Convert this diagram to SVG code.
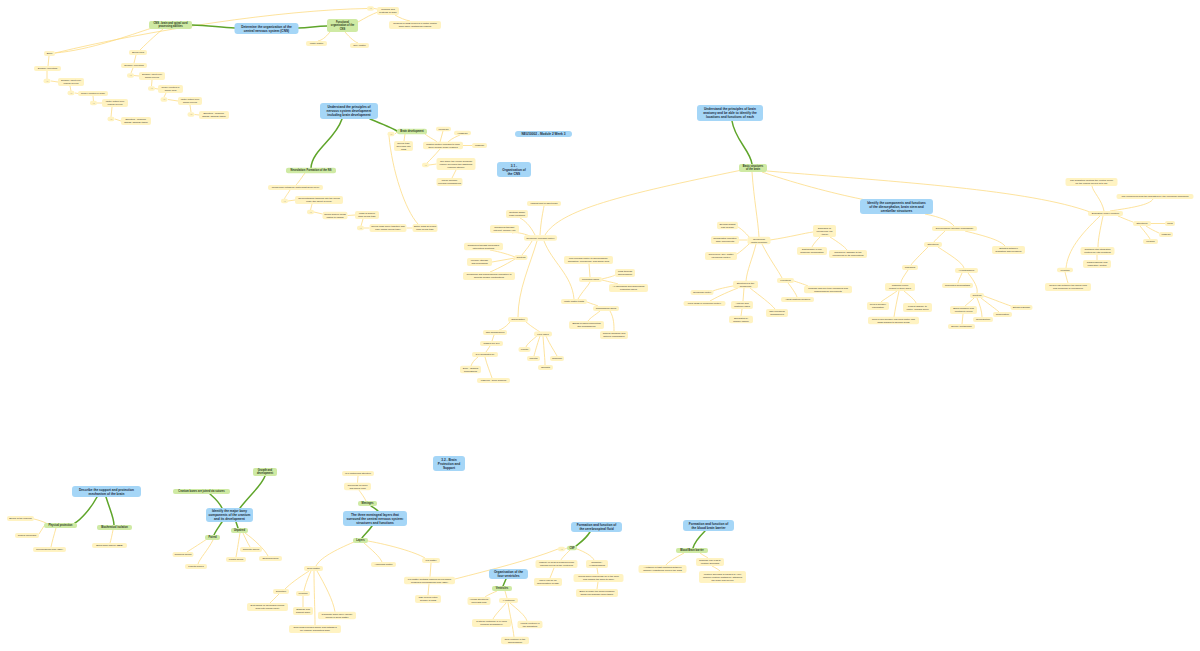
<svg xmlns="http://www.w3.org/2000/svg" width="1200" height="651" viewBox="0 0 1200 651">
<style>
.b{fill:#a5d6f7}.g{fill:#cfeaa4}.y{fill:#fff3c2}
text{font-family:"Liberation Sans",Arial,sans-serif;text-anchor:middle}
.tb{font-size:3.2px;font-weight:bold;fill:#1b2b3a}
.tg{font-size:2.6px;font-weight:bold;fill:#2a3a1a}
.ty{font-size:2.4px;fill:#333}
.cy{fill:none;stroke:#fcd97e;stroke-width:0.75}
.cg{fill:none;stroke:#5fa52a;stroke-width:1.5;stroke-linecap:round}
</style>
<rect width="1200" height="651" fill="#ffffff"/>
<g id="connectors">
<path class="cy" d="M55,53 C90,50 130,35 152,28"/>
<path class="cy" d="M55,53 C150,30 280,10 367,8.5"/>
<path class="cy" d="M140,50 C150,40 158,33 163,29"/>
<path class="cg" d="M192,25 C210,25 220,28 235,28"/>
<path class="cg" d="M298,28 C310,28 315,26 327,26"/>
<path class="cy" d="M330,32 C325,38 322,40 318,41"/>
<path class="cy" d="M345,32 C350,38 355,42 358,43"/>
<path class="cy" d="M358,22 C365,18 372,14 378,12"/>
<path class="cy" d="M374,8.5 L377,9"/>
<path class="cy" d="M395,15 C400,18 405,20 410,21"/>
<path class="cy" d="M49,56 L48,66 M47,71 L47,79 M51,81 L58,82 M70,86 L71,91 M75,93 L78,93.5 M93,96 L93.5,101 M97,103 L102,103 M112,107 L111,117 M115,119 L121,121"/>
<path class="cy" d="M136,55 L134,63 M133,68 L131,73 M134,75.5 L139,76 M152,80 L151.5,86 M155,88.5 L158,89 M166,93 L164,97 M168,99.5 L178,101 M190,105 L191,112 M194.5,114.5 L199,115"/>
<path class="cg" d="M370,119 C385,125 392,128 397,131"/>
<path class="cg" d="M342,119 C335,140 312,150 311,168"/>
<path class="cy" d="M397,132 L395,134 M405,134 L404,141"/>
<path class="cy" d="M425,134 C430,138 435,140 437,142"/>
<path class="cy" d="M440,142 L443,131"/>
<path class="cy" d="M448,142 C452,138 458,136 460,135"/>
<path class="cy" d="M463,145.5 L472,145.5"/>
<path class="cy" d="M440,149 C435,155 430,160 427,163"/>
<path class="cy" d="M429,165 L436.5,164 M456,170 L452,178"/>
<path class="cy" d="M389,136 C392,170 405,210 418,224"/>
<path class="cy" d="M305,173 C300,180 298,183 296,185"/>
<path class="cy" d="M290,190 C287,195 285,197 284.5,199 M288,201 L295,200 M312,204 L310.5,210 M314,212 L322.5,214 M347.5,215.5 L355,215 M363,219 L361,226 M364,228 L369.5,228 M406.5,228 L412.5,228"/>
<path class="cy" d="M545,235 C560,210 620,195 742,170"/>
<path class="cy" d="M540,235 C541,220 543,212 544,206"/>
<path class="cy" d="M535,235 C530,225 524,220 520,218"/>
<path class="cy" d="M530,236 C522,233 516,232 512,233"/>
<path class="cy" d="M532,241 C528,248 524,252 522,255"/>
<path class="cy" d="M515,257 C505,253 495,251 490,250"/>
<path class="cy" d="M515,258 L492,262"/>
<path class="cy" d="M515,259 C505,265 495,270 490,272"/>
<path class="cy" d="M537,241 C530,265 518,290 518,317"/>
<path class="cy" d="M544,241 C552,262 572,275 574,299"/>
<path class="cy" d="M578,299 C582,292 588,286 590,282"/>
<path class="cy" d="M590,277 L589,264"/>
<path class="cy" d="M602,279 C610,277 614,276 615,275"/>
<path class="cy" d="M602,280 C610,282 615,283 618,284"/>
<path class="cy" d="M587,302 C592,304 596,305 598,306"/>
<path class="cy" d="M600,311 C595,315 590,318 588,321"/>
<path class="cy" d="M610,311 C614,318 614,325 614,331"/>
<path class="cy" d="M510,322 C505,328 500,330 499,330"/>
<path class="cy" d="M526,322 C532,327 537,330 540,332"/>
<path class="cy" d="M494,335 L492,341 M490,346 L486,352"/>
<path class="cy" d="M478,357 C474,360 472,363 471,366"/>
<path class="cy" d="M485,357 C487,365 490,372 492,378"/>
<path class="cy" d="M537,336 C532,340 527,344 526,347"/>
<path class="cy" d="M540,336 C537,345 535,352 534,356"/>
<path class="cy" d="M546,336 C550,345 555,352 557,356"/>
<path class="cy" d="M543,336 C544,350 545,360 545,365"/>
<path class="cg" d="M732,121 C735,140 750,150 752,164"/>
<path class="cy" d="M752,172 C754,200 758,220 759,237"/>
<path class="cy" d="M762,172 C800,185 840,195 866,200"/>
<path class="cy" d="M767,171 C900,182 1030,190 1090,212"/>
<path class="cy" d="M750,238 C745,232 740,228 738,227"/>
<path class="cy" d="M747.5,240 L739,240"/>
<path class="cy" d="M750,243 C745,248 740,252 737,254"/>
<path class="cy" d="M770,240 C790,237 805,233 813,232"/>
<path class="cy" d="M820,237 C815,242 813,245 812,247"/>
<path class="cy" d="M830,237 C838,242 845,247 847,250"/>
<path class="cy" d="M756,244 C752,260 747,270 746,281"/>
<path class="cy" d="M762,244 C770,260 778,270 782,278"/>
<path class="cy" d="M794,281 C800,283 806,285 808,286"/>
<path class="cy" d="M788,283 C792,288 796,294 797,297"/>
<path class="cy" d="M733,286 C722,288 715,290 713,291"/>
<path class="cy" d="M738,288 C725,293 715,298 710,301"/>
<path class="cy" d="M744,288 L743,301 M742,309 L741,316"/>
<path class="cy" d="M750,288 C760,296 770,303 775,309"/>
<path class="cy" d="M925,214 C940,217 950,221 954,226"/>
<path class="cy" d="M945,231 C940,236 935,240 934,242"/>
<path class="cy" d="M965,231 C985,236 1000,240 1005,246"/>
<path class="cy" d="M928,247 C920,255 913,262 911,265"/>
<path class="cy" d="M938,247 C950,255 962,262 964,268"/>
<path class="cy" d="M908,270 C904,276 901,280 901,283"/>
<path class="cy" d="M962,273 C960,278 958,281 958,283"/>
<path class="cy" d="M968,273 C975,282 978,288 977,293"/>
<path class="cy" d="M897,291 C890,296 883,300 881,302"/>
<path class="cy" d="M904,291 C910,296 915,300 916,303"/>
<path class="cy" d="M899,291 C897,300 895,310 894,317"/>
<path class="cy" d="M974,298 C970,302 966,305 965,306"/>
<path class="cy" d="M977,298 C980,305 982,312 982,317"/>
<path class="cy" d="M981,298 C990,305 997,310 999,312"/>
<path class="cy" d="M984,296 C995,300 1005,304 1011,306"/>
<path class="cy" d="M963,314 L962,324"/>
<path class="cy" d="M1104,211 C1102,200 1093,192 1092,186"/>
<path class="cy" d="M1110,211 C1130,208 1150,205 1153,199"/>
<path class="cy" d="M1118,216 C1125,219 1130,221 1133,222"/>
<path class="cy" d="M1151,223.5 L1165,223.5"/>
<path class="cy" d="M1146,226 C1152,230 1157,232 1159,233"/>
<path class="cy" d="M1140,226 C1145,232 1149,237 1150,239"/>
<path class="cy" d="M1103,216 C1100,230 1098,240 1098,247 M1097,255 L1097,260"/>
<path class="cy" d="M1100,216 C1080,235 1068,250 1066,268"/>
<path class="cy" d="M1065,272 C1066,276 1067,280 1068,283"/>
<path class="cg" d="M97,497 C90,510 80,520 75,523"/>
<path class="cg" d="M106,497 C110,510 114,518 114,525"/>
<path class="cy" d="M48,524 C42,521 38,520 34,519"/>
<path class="cy" d="M44,526 L39,534"/>
<path class="cy" d="M56,528 C54,535 52,542 51,547"/>
<path class="cy" d="M113,530 C112,535 111,540 110,543"/>
<path class="cg" d="M222,508 C218,500 212,496 210,494"/>
<path class="cg" d="M240,508 C250,495 262,485 265,476"/>
<path class="cg" d="M222,522 C218,528 215,532 214,535"/>
<path class="cg" d="M236,522 L238,528"/>
<path class="cy" d="M207,539 C198,545 190,550 187,552"/>
<path class="cy" d="M213,540 C208,550 200,558 198,564"/>
<path class="cy" d="M240,533 C238,545 237,552 236,557"/>
<path class="cy" d="M243,533 C246,540 249,545 250,547"/>
<path class="cy" d="M245,533 C255,540 265,550 268,556"/>
<path class="cy" d="M366,501 C363,495 360,492 359,490 M357.5,482.75 L358,476"/>
<path class="cg" d="M371,506 C374,508 376,509 378,511"/>
<path class="cg" d="M372,526 C368,532 364,535 362,538"/>
<path class="cy" d="M354,542 C335,550 320,558 316,566"/>
<path class="cy" d="M364,543 C372,550 380,557 382,562"/>
<path class="cy" d="M368,541 C390,545 415,552 425,558"/>
<path class="cy" d="M431,563 L430,576.75 M429,584 L428,595"/>
<path class="cy" d="M309,571 C298,578 290,584 285,589"/>
<path class="cy" d="M311,571 C307,580 305,586 304,591"/>
<path class="cy" d="M317,571 C325,585 333,600 335,611.75"/>
<path class="cy" d="M314,571 C314,590 315,610 315,625"/>
<path class="cy" d="M279,594 C275,598 272,601 270,603 M303,596 L303,607"/>
<path class="cy" d="M455,579 C490,570 530,560 558,549"/>
<path class="cg" d="M506,579 L503,586"/>
<path class="cy" d="M497,591 C490,594 486,596 485,597"/>
<path class="cy" d="M505,591 L507,598"/>
<path class="cy" d="M506,603 C500,610 495,615 493,619"/>
<path class="cy" d="M510,603 C518,610 525,615 527,621"/>
<path class="cy" d="M508,603 C510,615 513,628 514,637"/>
<path class="cg" d="M590,532 C585,540 578,544 576,546"/>
<path class="cy" d="M565,549 L567,548"/>
<path class="cy" d="M570,550 C565,555 562,558 561,560"/>
<path class="cy" d="M577,549 C585,552 592,556 594,560"/>
<path class="cy" d="M554,568 L550,578 M597,568 L598,574 M598,582 L597,589"/>
<path class="cg" d="M705,531 C698,538 694,544 693,548"/>
<path class="cy" d="M684,553 C675,558 668,562 666,565"/>
<path class="cy" d="M700,553 C704,556 707,557 708,558"/>
<path class="cy" d="M712,566 C716,568 719,570 720,571"/>
</g>
<g id="N1"><rect class="g" x="149" y="21" width="43" height="8" rx="2"/><text class="tg"><tspan x="170.5" y="24.35">CNS - brain and spinal cord</tspan><tspan x="170.5" y="27.45">processing abilities</tspan></text></g>
<g id="N2"><rect class="b" x="234.5" y="23" width="64" height="11" rx="3"/><text class="tb"><tspan x="266.5" y="27.65">Determine the organization of the</tspan><tspan x="266.5" y="31.55">central nervous system (CNS)</tspan></text></g>
<g id="N3"><rect class="g" x="327" y="19" width="31" height="13" rx="2.5"/><text class="tg"><tspan x="342.5" y="23.3">Functional</tspan><tspan x="342.5" y="26.4">organisation of the</tspan><tspan x="342.5" y="29.5">CNS</tspan></text></g>
<g id="N4"><rect class="y" x="367" y="6.25" width="7" height="4.5" rx="2"/><text class="ty" x="370.5" y="9.35">-&gt;</text></g>
<g id="N5"><rect class="y" x="377" y="7" width="22" height="8" rx="2"/><text class="ty"><tspan x="388" y="10.4">Regions and</tspan><tspan x="388" y="13.3">systems of brain</tspan></text></g>
<g id="N6"><rect class="y" x="389" y="21" width="52" height="8" rx="2"/><text class="ty"><tspan x="415" y="24.4">Regions of CNS involved in motor control</tspan><tspan x="415" y="27.3">span many anatomical regions</tspan></text></g>
<g id="N7"><rect class="y" x="306" y="41" width="21" height="5" rx="2"/><text class="ty" x="316.5" y="44.35">White matter</text></g>
<g id="N8"><rect class="y" x="350" y="43" width="19" height="5" rx="2"/><text class="ty" x="359.5" y="46.35">Grey matter</text></g>
<g id="N9"><rect class="y" x="44" y="51" width="11" height="5" rx="2"/><text class="ty" x="49.5" y="54.35">Brain</text></g>
<g id="N10"><rect class="y" x="129" y="50" width="18" height="5" rx="2"/><text class="ty" x="138" y="53.35">Spinal cord</text></g>
<g id="N11"><rect class="y" x="34" y="66" width="27" height="5" rx="2"/><text class="ty" x="47.5" y="69.35">Sensory receptors</text></g>
<g id="N12"><rect class="y" x="43.5" y="78.75" width="7" height="4.5" rx="2"/><text class="ty" x="47" y="81.85">-&gt;</text></g>
<g id="N13"><rect class="y" x="58" y="78" width="26" height="8" rx="2"/><text class="ty"><tspan x="71" y="81.4">Sensory input over</tspan><tspan x="71" y="84.3">cranial nerves</tspan></text></g>
<g id="N14"><rect class="y" x="67.5" y="90.75" width="7" height="4.5" rx="2"/><text class="ty" x="71" y="93.85">-&gt;</text></g>
<g id="N15"><rect class="y" x="78" y="91" width="30" height="5" rx="2"/><text class="ty" x="93" y="94.35">Reflex centres in brain</text></g>
<g id="N16"><rect class="y" x="90" y="100.75" width="7" height="4.5" rx="2"/><text class="ty" x="93.5" y="103.85">-&gt;</text></g>
<g id="N17"><rect class="y" x="102" y="99" width="26" height="8" rx="2"/><text class="ty"><tspan x="115" y="102.4">Motor output over</tspan><tspan x="115" y="105.3">cranial nerves</tspan></text></g>
<g id="N18"><rect class="y" x="107.5" y="116.75" width="7" height="4.5" rx="2"/><text class="ty" x="111" y="119.85">-&gt;</text></g>
<g id="N19"><rect class="y" x="121" y="117" width="30" height="8" rx="2"/><text class="ty"><tspan x="136" y="120.4">Effectors - muscles,</tspan><tspan x="136" y="123.3">glands, adipose tissue</tspan></text></g>
<g id="N20"><rect class="y" x="121" y="63" width="26" height="5" rx="2"/><text class="ty" x="134" y="66.35">Sensory receptors</text></g>
<g id="N21"><rect class="y" x="127" y="73.25" width="7" height="4.5" rx="2"/><text class="ty" x="130.5" y="76.35">-&gt;</text></g>
<g id="N22"><rect class="y" x="139" y="72" width="26" height="8" rx="2"/><text class="ty"><tspan x="152" y="75.4">Sensory input over</tspan><tspan x="152" y="78.3">spinal nerves</tspan></text></g>
<g id="N23"><rect class="y" x="148" y="86.25" width="7" height="4.5" rx="2"/><text class="ty" x="151.5" y="89.35">-&gt;</text></g>
<g id="N24"><rect class="y" x="158" y="85" width="25" height="8" rx="2"/><text class="ty"><tspan x="170.5" y="88.4">Reflex centres in</tspan><tspan x="170.5" y="91.3">spinal cord</tspan></text></g>
<g id="N25"><rect class="y" x="160.5" y="97.25" width="7" height="4.5" rx="2"/><text class="ty" x="164" y="100.35">-&gt;</text></g>
<g id="N26"><rect class="y" x="178" y="97" width="24" height="8" rx="2"/><text class="ty"><tspan x="190" y="100.4">Motor output over</tspan><tspan x="190" y="103.3">spinal nerves</tspan></text></g>
<g id="N27"><rect class="y" x="187.5" y="112.25" width="7" height="4.5" rx="2"/><text class="ty" x="191" y="115.35">-&gt;</text></g>
<g id="N28"><rect class="y" x="199" y="111" width="30" height="8" rx="2"/><text class="ty"><tspan x="214" y="114.4">Effectors - muscles,</tspan><tspan x="214" y="117.3">glands, adipose tissue</tspan></text></g>
<g id="D1"><rect class="b" x="320" y="103" width="58" height="16" rx="3"/><text class="tb"><tspan x="349" y="108.2">Understand the principles of</tspan><tspan x="349" y="112.1">nervous system development</tspan><tspan x="349" y="116">including brain development</tspan></text></g>
<g id="D2"><rect class="g" x="397" y="128.75" width="30" height="5.5" rx="2"/><text class="tg" x="412" y="132.4">Brain development</text></g>
<g id="D3"><rect class="y" x="387.5" y="131.75" width="7" height="4.5" rx="2"/><text class="ty" x="391" y="134.85">-&gt;</text></g>
<g id="D4"><rect class="y" x="394" y="141" width="19" height="10" rx="2"/><text class="ty"><tspan x="403.5" y="143.95">Neural tube</tspan><tspan x="403.5" y="146.85">develops into</tspan><tspan x="403.5" y="149.75">CNS</tspan></text></g>
<g id="D5"><rect class="y" x="423" y="141.75" width="40" height="7.5" rx="2"/><text class="ty"><tspan x="443" y="144.9">Rostral portion enlarged to form</tspan><tspan x="443" y="147.8">three primary brain vesicles</tspan></text></g>
<g id="D6"><rect class="y" x="436" y="126.75" width="15" height="4.5" rx="2"/><text class="ty" x="443.5" y="129.85">Forebrain</text></g>
<g id="D7"><rect class="y" x="454" y="130.75" width="17" height="4.5" rx="2"/><text class="ty" x="462.5" y="133.85">Hindbrain</text></g>
<g id="D8"><rect class="y" x="472" y="143" width="15" height="5" rx="2"/><text class="ty" x="479.5" y="146.35">Midbrain</text></g>
<g id="D9"><rect class="y" x="422" y="162.75" width="7" height="4.5" rx="2"/><text class="ty" x="425.5" y="165.85">-&gt;</text></g>
<g id="D10"><rect class="y" x="436.5" y="158" width="39" height="12" rx="2"/><text class="ty"><tspan x="456" y="161.95">The brain: the neural forebrain</tspan><tspan x="456" y="164.85">vesicle develops two additional</tspan><tspan x="456" y="167.75">vesicles laterally</tspan></text></g>
<g id="D11"><rect class="y" x="436.5" y="178" width="26" height="8" rx="2"/><text class="ty"><tspan x="449.5" y="181.4">These become</tspan><tspan x="449.5" y="184.3">cerebral hemispheres</tspan></text></g>
<g id="D12"><rect class="g" x="286" y="167.75" width="50" height="5.5" rx="2"/><text class="tg" x="311" y="171.4">Neurulation: Formation of the NS</text></g>
<g id="D13"><rect class="y" x="268" y="185" width="55" height="5" rx="2"/><text class="ty" x="295.5" y="188.35">Forms from ectoderm (outermost germ layer)</text></g>
<g id="D14"><rect class="y" x="281" y="198.75" width="7" height="4.5" rx="2"/><text class="ty" x="284.5" y="201.85">-&gt;</text></g>
<g id="D15"><rect class="y" x="295" y="196" width="48" height="8" rx="2"/><text class="ty"><tspan x="319" y="199.4">Neuroectoderm thickens into the neural</tspan><tspan x="319" y="202.3">plate (the sheet of cells)</tspan></text></g>
<g id="D16"><rect class="y" x="307" y="209.75" width="7" height="4.5" rx="2"/><text class="ty" x="310.5" y="212.85">-&gt;</text></g>
<g id="D17"><rect class="y" x="322.5" y="211.75" width="25" height="7.5" rx="2"/><text class="ty"><tspan x="335" y="214.9">Neural groove forms</tspan><tspan x="335" y="217.8">rostral to caudal</tspan></text></g>
<g id="D18"><rect class="y" x="355" y="211" width="24" height="8" rx="2"/><text class="ty"><tspan x="367" y="214.4">Walls of groove</tspan><tspan x="367" y="217.3">form neural tube</tspan></text></g>
<g id="D19"><rect class="y" x="357" y="225.75" width="7" height="4.5" rx="2"/><text class="ty" x="360.5" y="228.85">-&gt;</text></g>
<g id="D20"><rect class="y" x="369.5" y="224" width="37" height="8" rx="2"/><text class="ty"><tspan x="388" y="227.4">Neural folds move together and</tspan><tspan x="388" y="230.3">fuse (forms neural tube)</tspan></text></g>
<g id="D21"><rect class="y" x="412.5" y="224" width="25" height="8" rx="2"/><text class="ty"><tspan x="425" y="227.4">Entire CNS develops</tspan><tspan x="425" y="230.3">from neural tube</tspan></text></g>
<g id="C1"><rect class="b" x="515" y="131" width="57" height="6" rx="3"/><text class="tb" x="543.5" y="135.1">NEU10002 - Module 2 Week 3</text></g>
<g id="C2"><rect class="b" x="497" y="162" width="34" height="15" rx="3"/><text class="tb"><tspan x="514" y="166.7">3.1 -</tspan><tspan x="514" y="170.6">Organisation of</tspan><tspan x="514" y="174.5">the CNS</tspan></text></g>
<g id="C3"><rect class="y" x="527" y="201" width="34" height="5" rx="2"/><text class="ty" x="544" y="204.35">Largest part of adult brain</text></g>
<g id="C4"><rect class="y" x="506" y="210" width="22" height="8" rx="2"/><text class="ty"><tspan x="517" y="213.4">Controls higher</tspan><tspan x="517" y="216.3">order functions</tspan></text></g>
<g id="C5"><rect class="y" x="490" y="225" width="29" height="8" rx="2"/><text class="ty"><tspan x="504.5" y="228.4">Conscious thought,</tspan><tspan x="504.5" y="231.3">intellect, memory etc</tspan></text></g>
<g id="C6"><rect class="y" x="524" y="235.25" width="33" height="5.5" rx="2"/><text class="ty" x="540.5" y="238.85">Cerebrum (cerebral cortex)</text></g>
<g id="C7"><rect class="y" x="464" y="242.75" width="39" height="7.5" rx="2"/><text class="ty"><tspan x="483.5" y="245.9">Conscious thought processes,</tspan><tspan x="483.5" y="248.8">intellectual functions</tspan></text></g>
<g id="C8"><rect class="y" x="514.5" y="255" width="13" height="5" rx="2"/><text class="ty" x="521" y="258.35">Controls</text></g>
<g id="C9"><rect class="y" x="467" y="258" width="25" height="8" rx="2"/><text class="ty"><tspan x="479.5" y="261.4">Memory storage</tspan><tspan x="479.5" y="264.3">and processing</tspan></text></g>
<g id="C10"><rect class="y" x="463" y="272" width="52" height="8" rx="2"/><text class="ty"><tspan x="489" y="275.4">Conscious and subconscious regulation of</tspan><tspan x="489" y="278.3">skeletal muscle contractions</tspan></text></g>
<g id="C11"><rect class="y" x="564" y="256" width="49" height="8" rx="2"/><text class="ty"><tspan x="588.5" y="259.4">Link cerebral cortex to diencephalon,</tspan><tspan x="588.5" y="262.3">brainstem, cerebellum, and spinal cord</tspan></text></g>
<g id="C12"><rect class="y" x="615" y="269" width="20" height="8" rx="2"/><text class="ty"><tspan x="625" y="272.4">Pass through</tspan><tspan x="625" y="275.3">diencephalon</tspan></text></g>
<g id="C13"><rect class="y" x="579" y="277" width="23" height="5" rx="2"/><text class="ty" x="590.5" y="280.35">Projection fibers</text></g>
<g id="C14"><rect class="y" x="609" y="284" width="39" height="8" rx="2"/><text class="ty"><tspan x="628.5" y="287.4">All ascending and descending</tspan><tspan x="628.5" y="290.3">projection fibers</tspan></text></g>
<g id="C15"><rect class="y" x="561" y="299" width="26" height="5" rx="2"/><text class="ty" x="574" y="302.35">White matter tracts</text></g>
<g id="C16"><rect class="y" x="593" y="306" width="26" height="5" rx="2"/><text class="ty" x="606" y="309.35">Commissural fibers</text></g>
<g id="C17"><rect class="y" x="569" y="321" width="35" height="8" rx="2"/><text class="ty"><tspan x="586.5" y="324.4">Bands of fibres connecting</tspan><tspan x="586.5" y="327.3">two hemispheres</tspan></text></g>
<g id="C18"><rect class="y" x="600" y="331" width="28" height="8" rx="2"/><text class="ty"><tspan x="614" y="334.4">Corpus callosum and</tspan><tspan x="614" y="337.3">anterior commissure</tspan></text></g>
<g id="C19"><rect class="y" x="508" y="317" width="20" height="5" rx="2"/><text class="ty" x="518" y="320.35">Organisation</text></g>
<g id="C20"><rect class="y" x="483" y="330" width="24" height="5" rx="2"/><text class="ty" x="495" y="333.35">Two hemispheres</text></g>
<g id="C21"><rect class="y" x="534" y="331.5" width="18" height="5" rx="2"/><text class="ty" x="543" y="334.85">Four lobes</text></g>
<g id="C22"><rect class="y" x="480" y="341" width="23" height="5" rx="2"/><text class="ty" x="491.5" y="344.35">Ridges are gyri</text></g>
<g id="C23"><rect class="y" x="472" y="352" width="26" height="5" rx="2"/><text class="ty" x="485" y="355.35">Gyri separated by</text></g>
<g id="C24"><rect class="y" x="460" y="365.75" width="21" height="7.5" rx="2"/><text class="ty"><tspan x="470.5" y="368.9">Sulci - shallow</tspan><tspan x="470.5" y="371.8">depressions</tspan></text></g>
<g id="C25"><rect class="y" x="477" y="378" width="33" height="5" rx="2"/><text class="ty" x="493.5" y="381.35">Fissures - deep grooves</text></g>
<g id="C26"><rect class="y" x="518.5" y="347" width="12" height="5" rx="2"/><text class="ty" x="524.5" y="350.35">Frontal</text></g>
<g id="C27"><rect class="y" x="527" y="356" width="13" height="5" rx="2"/><text class="ty" x="533.5" y="359.35">Parietal</text></g>
<g id="C28"><rect class="y" x="550" y="356" width="14" height="5" rx="2"/><text class="ty" x="557" y="359.35">Temporal</text></g>
<g id="C29"><rect class="y" x="538" y="365" width="15" height="5" rx="2"/><text class="ty" x="545.5" y="368.35">Occipital</text></g>
<g id="B1"><rect class="b" x="697" y="105" width="66" height="16" rx="3"/><text class="tb"><tspan x="730" y="110.2">Understand the principles of brain</tspan><tspan x="730" y="114.1">anatomy and be able to identify the</tspan><tspan x="730" y="118">locations and functions of each</tspan></text></g>
<g id="B2"><rect class="g" x="739" y="164" width="28" height="8" rx="2"/><text class="tg"><tspan x="753" y="167.35">Basic structures</tspan><tspan x="753" y="170.45">of the brain</tspan></text></g>
<g id="B3"><rect class="b" x="860" y="199" width="73" height="15" rx="3"/><text class="tb"><tspan x="896.5" y="203.7">Identify the components and functions</tspan><tspan x="896.5" y="207.6">of the diencephalon, brain stem and</tspan><tspan x="896.5" y="211.5">cerebellar structures</tspan></text></g>
<g id="B4"><rect class="y" x="717" y="221.75" width="21" height="7.5" rx="2"/><text class="ty"><tspan x="727.5" y="224.9">Second largest</tspan><tspan x="727.5" y="227.8">part of brain</tspan></text></g>
<g id="B5"><rect class="y" x="711" y="236" width="28" height="8" rx="2"/><text class="ty"><tspan x="725" y="239.4">Coordinates repetitive</tspan><tspan x="725" y="242.3">body movements</tspan></text></g>
<g id="B6"><rect class="y" x="747.5" y="236.75" width="23" height="7.5" rx="2"/><text class="ty"><tspan x="759" y="239.9">Cerebellum</tspan><tspan x="759" y="242.8">(motor function)</tspan></text></g>
<g id="B7"><rect class="y" x="705" y="252" width="32" height="8" rx="2"/><text class="ty"><tspan x="721" y="255.4">Covered by grey matter</tspan><tspan x="721" y="258.3">(cerebellar cortex)</tspan></text></g>
<g id="B8"><rect class="y" x="813" y="225" width="23" height="12" rx="2"/><text class="ty"><tspan x="824.5" y="228.95">Disorders of</tspan><tspan x="824.5" y="231.85">cerebellum (eg</tspan><tspan x="824.5" y="234.75">Ataxia)</tspan></text></g>
<g id="B9"><rect class="y" x="797" y="247" width="30" height="8" rx="2"/><text class="ty"><tspan x="812" y="250.4">Disturbance in fine</tspan><tspan x="812" y="253.3">muscular coordination</tspan></text></g>
<g id="B10"><rect class="y" x="829" y="250" width="38" height="8" rx="2"/><text class="ty"><tspan x="848" y="253.4">Caused by damage to the</tspan><tspan x="848" y="256.3">cerebellum or its connections</tspan></text></g>
<g id="B11"><rect class="y" x="733" y="280.75" width="25" height="7.5" rx="2"/><text class="ty"><tspan x="745.5" y="283.9">Structures of the</tspan><tspan x="745.5" y="286.8">cerebellum</tspan></text></g>
<g id="B12"><rect class="y" x="777" y="278" width="17" height="5" rx="2"/><text class="ty" x="785.5" y="281.35">Functions</text></g>
<g id="B13"><rect class="y" x="804" y="285.75" width="48" height="7.5" rx="2"/><text class="ty"><tspan x="828" y="288.9">Program and fine-tune conscious and</tspan><tspan x="828" y="291.8">subconscious movements</tspan></text></g>
<g id="B14"><rect class="y" x="781" y="297" width="33" height="5" rx="2"/><text class="ty" x="797.5" y="300.35">Adjust postural muscles</text></g>
<g id="B15"><rect class="y" x="690.5" y="290" width="23" height="5" rx="2"/><text class="ty" x="702" y="293.35">Cerebellar cortex</text></g>
<g id="B16"><rect class="y" x="683.5" y="301" width="42" height="5" rx="2"/><text class="ty" x="704.5" y="304.35">Folia (folds in cerebellar cortex)</text></g>
<g id="B17"><rect class="y" x="731" y="301" width="22" height="8" rx="2"/><text class="ty"><tspan x="742" y="304.4">Anterior and</tspan><tspan x="742" y="307.3">posterior lobes</tspan></text></g>
<g id="B18"><rect class="y" x="729" y="315.75" width="24" height="7.5" rx="2"/><text class="ty"><tspan x="741" y="318.9">Separated by</tspan><tspan x="741" y="321.8">primary fissure</tspan></text></g>
<g id="B19"><rect class="y" x="766" y="309" width="22" height="8" rx="2"/><text class="ty"><tspan x="777" y="312.4">Two cerebellar</tspan><tspan x="777" y="315.3">hemispheres</tspan></text></g>
<g id="E1"><rect class="y" x="932" y="226" width="45" height="5" rx="2"/><text class="ty" x="954.5" y="229.35">Diencephalon (sensory processing)</text></g>
<g id="E2"><rect class="y" x="924" y="242" width="18" height="5" rx="2"/><text class="ty" x="933" y="245.35">Structures</text></g>
<g id="E3"><rect class="y" x="992" y="246" width="33" height="8" rx="2"/><text class="ty"><tspan x="1008.5" y="249.4">Situated between</tspan><tspan x="1008.5" y="252.3">brainstem and cerebrum</tspan></text></g>
<g id="E4"><rect class="y" x="902" y="265" width="16" height="5" rx="2"/><text class="ty" x="910" y="268.35">Thalamus</text></g>
<g id="E5"><rect class="y" x="955" y="268" width="23" height="5" rx="2"/><text class="ty" x="966.5" y="271.35">Hypothalamus</text></g>
<g id="E6"><rect class="y" x="885" y="283" width="30" height="8" rx="2"/><text class="ty"><tspan x="900" y="286.4">Thalamic nuclei</tspan><tspan x="900" y="289.3">project in three ways</tspan></text></g>
<g id="E7"><rect class="y" x="942" y="283" width="31" height="5" rx="2"/><text class="ty" x="957.5" y="286.35">Regulates homeostasis</text></g>
<g id="E8"><rect class="y" x="970" y="293" width="14" height="5" rx="2"/><text class="ty" x="977" y="296.35">Controls</text></g>
<g id="E9"><rect class="y" x="867" y="302" width="22" height="8" rx="2"/><text class="ty"><tspan x="878" y="305.4">Relays sensory</tspan><tspan x="878" y="308.3">information</tspan></text></g>
<g id="E10"><rect class="y" x="903" y="303" width="29" height="9" rx="2"/><text class="ty"><tspan x="917.5" y="306.9">Project globally to</tspan><tspan x="917.5" y="309.8">cortex, arousal sleep</tspan></text></g>
<g id="E11"><rect class="y" x="868" y="316.75" width="51" height="7.5" rx="2"/><text class="ty"><tspan x="893.5" y="319.9">Relays non-sensory info from cortex and</tspan><tspan x="893.5" y="322.8">basal ganglia to specific areas</tspan></text></g>
<g id="E12"><rect class="y" x="950" y="306" width="27" height="8" rx="2"/><text class="ty"><tspan x="963.5" y="309.4">Blood pressure and</tspan><tspan x="963.5" y="312.3">electrolyte levels</tspan></text></g>
<g id="E13"><rect class="y" x="973" y="317" width="20" height="5" rx="2"/><text class="ty" x="983" y="320.35">Reproduction</text></g>
<g id="E14"><rect class="y" x="993" y="312" width="19" height="5" rx="2"/><text class="ty" x="1002.5" y="315.35">Temperature</text></g>
<g id="E15"><rect class="y" x="1010.5" y="305" width="22" height="5" rx="2"/><text class="ty" x="1021.5" y="308.35">Stress response</text></g>
<g id="E16"><rect class="y" x="948" y="324" width="27" height="5" rx="2"/><text class="ty" x="961.5" y="327.35">Energy metabolism</text></g>
<g id="F1"><rect class="y" x="1065.5" y="178" width="52" height="8" rx="2"/><text class="ty"><tspan x="1091.5" y="181.4">The brainstem controls the central nuclei</tspan><tspan x="1091.5" y="184.3">for the cranial nerves (3 to 12)</tspan></text></g>
<g id="F2"><rect class="y" x="1116.5" y="194" width="77" height="5" rx="2"/><text class="ty" x="1155" y="197.35">The cerebellum joins the brainstem by the cerebellar peduncles</text></g>
<g id="F3"><rect class="y" x="1088" y="211" width="35" height="5" rx="2"/><text class="ty" x="1105.5" y="214.35">Brainstem (reflex centres)</text></g>
<g id="F4"><rect class="y" x="1133" y="221" width="18" height="5" rx="2"/><text class="ty" x="1142" y="224.35">Structures</text></g>
<g id="F5"><rect class="y" x="1165" y="221" width="10" height="5" rx="2"/><text class="ty" x="1170" y="224.35">Pons</text></g>
<g id="F6"><rect class="y" x="1159" y="232" width="14" height="5" rx="2"/><text class="ty" x="1166" y="235.35">Midbrain</text></g>
<g id="F7"><rect class="y" x="1143" y="239" width="15" height="5" rx="2"/><text class="ty" x="1150.5" y="242.35">Medulla</text></g>
<g id="F8"><rect class="y" x="1080.5" y="247" width="34" height="8" rx="2"/><text class="ty"><tspan x="1097.5" y="250.4">Contains vital integration</tspan><tspan x="1097.5" y="253.3">centres for vital functions</tspan></text></g>
<g id="F9"><rect class="y" x="1083" y="260" width="28" height="8" rx="2"/><text class="ty"><tspan x="1097" y="263.4">Cardiovascular and</tspan><tspan x="1097" y="266.3">respiratory control</tspan></text></g>
<g id="F10"><rect class="y" x="1057" y="267.75" width="16" height="4.5" rx="2"/><text class="ty" x="1065" y="270.85">Function</text></g>
<g id="F11"><rect class="y" x="1045" y="283" width="46" height="8" rx="2"/><text class="ty"><tspan x="1068" y="286.4">Relays info between the spinal cord</tspan><tspan x="1068" y="289.3">and cerebrum or cerebellum</tspan></text></g>
<g id="G1"><rect class="b" x="72" y="486" width="69" height="11" rx="3"/><text class="tb"><tspan x="106.5" y="490.65">Describe the support and protection</tspan><tspan x="106.5" y="494.55">mechanism of the brain</tspan></text></g>
<g id="G2"><rect class="g" x="44" y="523" width="33" height="5" rx="2"/><text class="tg" x="60.5" y="526.4">Physical protection</text></g>
<g id="G3"><rect class="g" x="97" y="525" width="35" height="5" rx="2"/><text class="tg" x="114.5" y="528.4">Biochemical isolation</text></g>
<g id="G4"><rect class="y" x="7" y="516" width="27" height="5" rx="2"/><text class="ty" x="20.5" y="519.35">Bones of the cranium</text></g>
<g id="G5"><rect class="y" x="15" y="533" width="24" height="5" rx="2"/><text class="ty" x="27" y="536.35">Cranial meninges</text></g>
<g id="G6"><rect class="y" x="33" y="547" width="33" height="5" rx="2"/><text class="ty" x="49.5" y="550.35">Cerebrospinal fluid (CSF)</text></g>
<g id="G7"><rect class="y" x="92" y="543" width="35" height="5" rx="2"/><text class="ty" x="109.5" y="546.35">Blood brain barrier (BBB)</text></g>
<g id="G8"><rect class="b" x="206" y="508" width="47" height="14" rx="3"/><text class="tb"><tspan x="229.5" y="512.2">Identify the major bony</tspan><tspan x="229.5" y="516.1">components of the cranium</tspan><tspan x="229.5" y="520">and its development</tspan></text></g>
<g id="G9"><rect class="g" x="173" y="489" width="57" height="5" rx="2"/><text class="tg" x="201.5" y="492.4">Cranium bones are joined via sutures</text></g>
<g id="G10"><rect class="g" x="253" y="468" width="24" height="8" rx="2"/><text class="tg"><tspan x="265" y="471.35">Growth and</tspan><tspan x="265" y="474.45">development</tspan></text></g>
<g id="G11"><rect class="g" x="205" y="535" width="15" height="5" rx="2"/><text class="tg" x="212.5" y="538.4">Paired</text></g>
<g id="G12"><rect class="g" x="231" y="528" width="17" height="5" rx="2"/><text class="tg" x="239.5" y="531.4">Unpaired</text></g>
<g id="G13"><rect class="y" x="172.5" y="552" width="21" height="5" rx="2"/><text class="ty" x="183" y="555.35">Temporal bones</text></g>
<g id="G14"><rect class="y" x="185" y="564" width="22" height="5" rx="2"/><text class="ty" x="196" y="567.35">Parietal bones</text></g>
<g id="G15"><rect class="y" x="226" y="557" width="20" height="5" rx="2"/><text class="ty" x="236" y="560.35">Frontal bones</text></g>
<g id="G16"><rect class="y" x="240" y="547" width="22" height="5" rx="2"/><text class="ty" x="251" y="550.35">Occipital bones</text></g>
<g id="G17"><rect class="y" x="259" y="556" width="23" height="5" rx="2"/><text class="ty" x="270.5" y="559.35">Sphenoid bone</text></g>
<g id="H1"><rect class="b" x="433" y="456" width="32" height="15" rx="3"/><text class="tb"><tspan x="449" y="460.7">3.2 - Brain</tspan><tspan x="449" y="464.6">Protection and</tspan><tspan x="449" y="468.5">Support</tspan></text></g>
<g id="H2"><rect class="y" x="342" y="471" width="32" height="5" rx="2"/><text class="ty" x="358" y="474.35">Is a continuous structure</text></g>
<g id="H3"><rect class="y" x="344" y="482.75" width="27" height="7.5" rx="2"/><text class="ty"><tspan x="357.5" y="485.9">Coverings on brain</tspan><tspan x="357.5" y="488.8">and spinal cord</tspan></text></g>
<g id="H4"><rect class="g" x="358" y="501" width="19" height="5" rx="2"/><text class="tg" x="367.5" y="504.4">Meninges</text></g>
<g id="H5"><rect class="b" x="343" y="511" width="64" height="15" rx="3"/><text class="tb"><tspan x="375" y="515.7">The three meningeal layers that</tspan><tspan x="375" y="519.6">surround the central nervous system:</tspan><tspan x="375" y="523.5">structures and functions</tspan></text></g>
<g id="H6"><rect class="g" x="353" y="538" width="15" height="5" rx="2"/><text class="tg" x="360.5" y="541.4">Layers</text></g>
<g id="H7"><rect class="y" x="304" y="566" width="19" height="5" rx="2"/><text class="ty" x="313.5" y="569.35">Dura matter</text></g>
<g id="H8"><rect class="y" x="371" y="562" width="25" height="5" rx="2"/><text class="ty" x="383.5" y="565.35">Arachnoid matter</text></g>
<g id="H9"><rect class="y" x="422" y="558" width="18" height="5" rx="2"/><text class="ty" x="431" y="561.35">Pia matter</text></g>
<g id="H10"><rect class="y" x="404" y="576.75" width="51" height="7.5" rx="2"/><text class="ty"><tspan x="429.5" y="579.9">Pia matter contains choroid plexus which</tspan><tspan x="429.5" y="582.8">produces cerebrospinal fluid (CSF)</tspan></text></g>
<g id="H11"><rect class="y" x="415" y="595" width="26" height="8" rx="2"/><text class="ty"><tspan x="428" y="598.4">CSF covers entire</tspan><tspan x="428" y="601.3">surface of CNS</tspan></text></g>
<g id="H12"><rect class="y" x="273" y="589" width="16" height="5" rx="2"/><text class="ty" x="281" y="592.35">Definition</text></g>
<g id="H13"><rect class="y" x="296" y="591" width="14" height="5" rx="2"/><text class="ty" x="303" y="594.35">Function</text></g>
<g id="H14"><rect class="y" x="247" y="603" width="41" height="8" rx="2"/><text class="ty"><tspan x="267.5" y="606.4">Extensions of meningeal cranial</tspan><tspan x="267.5" y="609.3">dura into cranial cavity</tspan></text></g>
<g id="H15"><rect class="y" x="293" y="607" width="20" height="8" rx="2"/><text class="ty"><tspan x="303" y="610.4">Stabilise and</tspan><tspan x="303" y="613.3">support brain</tspan></text></g>
<g id="H16"><rect class="y" x="318" y="611.75" width="38" height="7.5" rx="2"/><text class="ty"><tspan x="337" y="614.9">Traumatic brain injury usually</tspan><tspan x="337" y="617.8">occurs in dural matter</tspan></text></g>
<g id="H17"><rect class="y" x="289" y="625" width="52" height="8" rx="2"/><text class="ty"><tspan x="315" y="628.4">dural folds provides space and pathways</tspan><tspan x="315" y="631.3">for vessels; supporting brain</tspan></text></g>
<g id="V1"><rect class="b" x="489" y="569" width="39" height="10" rx="3"/><text class="tb"><tspan x="508.5" y="573.15">Organisation of the</tspan><tspan x="508.5" y="577.05">four ventricles</tspan></text></g>
<g id="V2"><rect class="g" x="492" y="586" width="20" height="5" rx="2"/><text class="tg" x="502" y="589.4">Ventricles</text></g>
<g id="V3"><rect class="y" x="467.5" y="597" width="23" height="8" rx="2"/><text class="ty"><tspan x="479" y="600.4">Hollow structures</tspan><tspan x="479" y="603.3">filled with fluid</tspan></text></g>
<g id="V4"><rect class="y" x="499" y="598" width="19" height="5" rx="2"/><text class="ty" x="508.5" y="601.35">4 ventricles</text></g>
<g id="V5"><rect class="y" x="472" y="619" width="39" height="8" rx="2"/><text class="ty"><tspan x="491.5" y="622.4">2 lateral ventricles (1 in each</tspan><tspan x="491.5" y="625.3">cerebral hemisphere)</tspan></text></g>
<g id="V6"><rect class="y" x="517.5" y="620.75" width="25" height="7.5" rx="2"/><text class="ty"><tspan x="530" y="623.9">Fourth ventricle in</tspan><tspan x="530" y="626.8">the brainstem</tspan></text></g>
<g id="V7"><rect class="y" x="501" y="636.75" width="28" height="7.5" rx="2"/><text class="ty"><tspan x="515" y="639.9">third ventricle in the</tspan><tspan x="515" y="642.8">diencephalon</tspan></text></g>
<g id="S1"><rect class="b" x="571" y="522" width="51" height="10" rx="3"/><text class="tb"><tspan x="596.5" y="526.15">Formation and function of</tspan><tspan x="596.5" y="530.05">the cerebrospinal fluid</tspan></text></g>
<g id="S2"><rect class="g" x="567" y="545.75" width="10" height="4.5" rx="2"/><text class="tg" x="572" y="548.9">CSF</text></g>
<g id="S3"><rect class="y" x="558" y="546.75" width="7" height="4.5" rx="2"/><text class="ty" x="561.5" y="549.85">-&gt;</text></g>
<g id="S4"><rect class="y" x="535.5" y="560" width="42" height="8" rx="2"/><text class="ty"><tspan x="556.5" y="563.4">Majority of CFS is produced from</tspan><tspan x="556.5" y="566.3">choroid plexus of the ventricles</tspan></text></g>
<g id="S5"><rect class="y" x="534" y="578" width="28" height="8" rx="2"/><text class="ty"><tspan x="548" y="581.4">There can be an</tspan><tspan x="548" y="584.3">accumulation of CSF</tspan></text></g>
<g id="S6"><rect class="y" x="586" y="560" width="22" height="8" rx="2"/><text class="ty"><tspan x="597" y="563.4">Condition -</tspan><tspan x="597" y="566.3">Hydrocephalus</tspan></text></g>
<g id="S7"><rect class="y" x="573.5" y="574" width="50" height="8" rx="2"/><text class="ty"><tspan x="598.5" y="577.4">occurs when fluid builds up in the skull</tspan><tspan x="598.5" y="580.3">and causes the brain to swell</tspan></text></g>
<g id="S8"><rect class="y" x="576" y="589" width="42" height="8" rx="2"/><text class="ty"><tspan x="597" y="592.4">Brain is under too much pressure</tspan><tspan x="597" y="595.3">which can damage brain tissue</tspan></text></g>
<g id="T1"><rect class="b" x="683" y="520" width="51" height="11" rx="3"/><text class="tb"><tspan x="708.5" y="524.65">Formation and function of</tspan><tspan x="708.5" y="528.55">the blood brain barrier</tspan></text></g>
<g id="T2"><rect class="g" x="676" y="548" width="32" height="5" rx="2"/><text class="tg" x="692" y="551.4">Blood Brain barrier</text></g>
<g id="T3"><rect class="y" x="638.5" y="565" width="48" height="8" rx="2"/><text class="ty"><tspan x="662.5" y="568.4">A network of tight junctions between</tspan><tspan x="662.5" y="571.3">capillary endothelial cells in the CNS</tspan></text></g>
<g id="T4"><rect class="y" x="696" y="558" width="28" height="8" rx="2"/><text class="ty"><tspan x="710" y="561.4">Damage can lead to</tspan><tspan x="710" y="564.3">Multiple Sclerosis</tspan></text></g>
<g id="T5"><rect class="y" x="699" y="571" width="47" height="12" rx="2"/><text class="ty"><tspan x="722.5" y="574.95">Multiple sclerosis is caused by your</tspan><tspan x="722.5" y="577.85">immune system mistakenly attacking</tspan><tspan x="722.5" y="580.75">the brain and nerves</tspan></text></g>
</svg>
